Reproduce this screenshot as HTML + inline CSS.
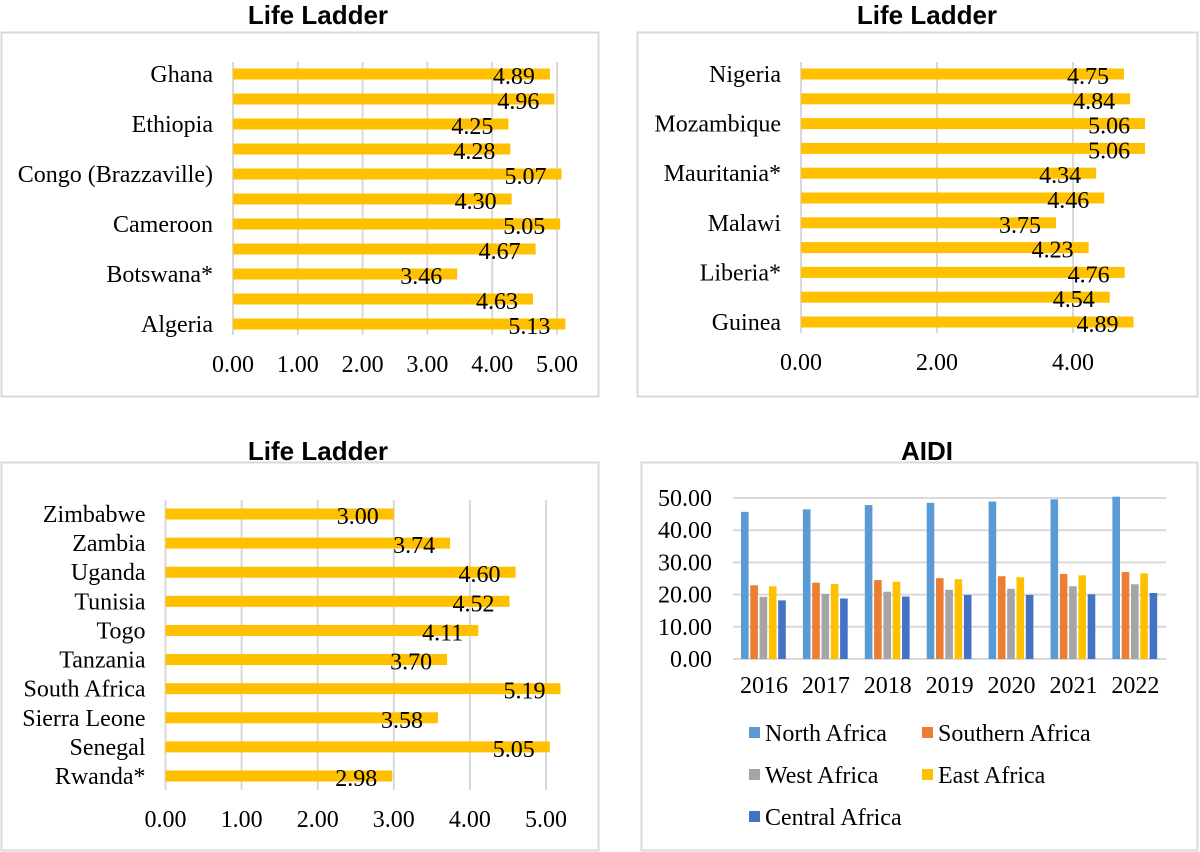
<!DOCTYPE html>
<html><head><meta charset="utf-8"><style>
html,body{margin:0;padding:0;background:#fff;width:1200px;height:852px;overflow:hidden}
svg{display:block}
text{font-family:"Liberation Serif",serif;fill:#000}
.t{font-family:"Liberation Sans",sans-serif;font-weight:bold;font-size:26px}
</style></head><body>
<svg id="s" width="1200" height="852">
<rect x="1.5" y="32.5" width="597" height="364" fill="none" stroke="#d9d9d9" stroke-width="2"/>
<rect x="637.5" y="32.5" width="560" height="364" fill="none" stroke="#d9d9d9" stroke-width="2"/>
<rect x="1.5" y="462.5" width="597" height="388" fill="none" stroke="#d9d9d9" stroke-width="2"/>
<rect x="641.5" y="462.5" width="556" height="388" fill="none" stroke="#d9d9d9" stroke-width="2"/>
<text class="t" x="318" y="24" text-anchor="middle">Life Ladder</text>
<text class="t" x="927" y="24" text-anchor="middle">Life Ladder</text>
<text class="t" x="318" y="460" text-anchor="middle">Life Ladder</text>
<text class="t" x="927" y="460" text-anchor="middle">AIDI</text>
<g id="g1"></g><g id="g2"></g><g id="g3"></g><g id="g4"></g>
</svg>
<script>
var ns="http://www.w3.org/2000/svg";
// Chart 1
var c1Labels=["Ghana","","Ethiopia","","Congo (Brazzaville)","","Cameroon","","Botswana*","","Algeria"];
var c1Values=[4.89,4.96,4.25,4.28,5.07,4.30,5.05,4.67,3.46,4.63,5.13];
var c1Ticks=[0,1,2,3,4,5];
// Chart 2
var c2Labels=["Nigeria","","Mozambique","","Mauritania*","","Malawi","","Liberia*","","Guinea"];
var c2Values=[4.75,4.84,5.06,5.06,4.34,4.46,3.75,4.23,4.76,4.54,4.89];
var c2Ticks=[0,2,4];
// Chart 3
var c3Labels=["Zimbabwe","Zambia","Uganda","Tunisia","Togo","Tanzania","South Africa","Sierra Leone","Senegal","Rwanda*"];
var c3Values=[3.00,3.74,4.60,4.52,4.11,3.70,5.19,3.58,5.05,2.98];
var c3Ticks=[0,1,2,3,4,5];
// Chart 4
var years=["2016","2017","2018","2019","2020","2021","2022"];
var seriesNames=["North Africa","Southern Africa","West Africa","East Africa","Central Africa"];
var northAfrica=[45.7,46.5,47.8,48.5,48.9,49.6,50.4];
var southernAfrica=[22.9,23.7,24.5,25.1,25.7,26.4,27.0];
var westAfrica=[19.3,20.2,20.9,21.5,21.8,22.6,23.2];
var eastAfrica=[22.6,23.3,24.0,24.8,25.4,26.0,26.6];
var centralAfrica=[18.2,18.8,19.4,19.9,19.9,20.1,20.5];
var yTicks4=[0,10,20,30,40,50];

function mk(p,tag,a){var e=document.createElementNS(ns,tag);for(var k in a)e.setAttribute(k,a[k]);p.appendChild(e);return e;}

function hbar(gid,labels,values,ticks,cfg){
  var g=document.getElementById(gid);
  var X=function(v){return cfg.x0+v*cfg.unit;};
  var n=labels.length,step=(cfg.yLast-cfg.yFirst)/(n-1);
  ticks.forEach(function(t){
    var l=mk(g,"line",{x1:X(t),x2:X(t),y1:cfg.gTop,y2:cfg.gBot,stroke:"#d9d9d9","stroke-width":2});
    
    
    var tx=mk(g,"text",{x:X(t),y:cfg.tickY,"text-anchor":"middle","font-size":"24px"});
    tx.textContent=t.toFixed(2);
    
    
  });
  labels.forEach(function(lb,i){
    var cy=cfg.yFirst+i*step;
    var r=mk(g,"rect",{x:X(0),y:cy-5.5,width:X(values[i])-X(0),height:11,fill:"#ffc000"});
    
    
    var v=mk(g,"text",{x:X(values[i])-15,y:cy+10,"text-anchor":"end","font-size":"24px"});
    v.textContent=values[i].toFixed(2);
    
    
    if(lb){var t=mk(g,"text",{x:cfg.x0-20,y:cy+8,"text-anchor":"end","font-size":"24px"});
    t.textContent=lb;
    
    }
  });
}
hbar("g1",c1Labels,c1Values,c1Ticks,{x0:233,unit:64.8,yFirst:74,yLast:324,gTop:62,gBot:335,tickY:372});
hbar("g2",c2Labels,c2Values,c2Ticks,{x0:801,unit:68,yFirst:74,yLast:322,gTop:62,gBot:333,tickY:370});
hbar("g3",c3Labels,c3Values,c3Ticks,{x0:165.5,unit:76.1,yFirst:514,yLast:776,gTop:500,gBot:790,tickY:827});

(function(){
  var g=document.getElementById("g4");
  var series=[northAfrica,southernAfrica,westAfrica,eastAfrica,centralAfrica];
  var colors=["#5b9bd5","#ed7d31","#a5a5a5","#ffc000","#4472c4"];
  var Y=function(v){return 659-v*3.22;};
  var px0=733,gw=61.9;
  yTicks4.forEach(function(t){
    var l=mk(g,"line",{x1:px0,x2:px0+gw*years.length,y1:Y(t),y2:Y(t),stroke:"#d9d9d9","stroke-width":2});
    
    
    var tx=mk(g,"text",{x:712,y:Y(t)+8,"text-anchor":"end","font-size":"24px"});
    tx.textContent=t.toFixed(2);
    
    
  });
  years.forEach(function(yr,i){
    var gx=px0+i*gw;
    series.forEach(function(s,j){
      var r=mk(g,"rect",{x:gx+8+j*9.3,y:Y(s[i]),width:7.6,height:Y(0)-Y(s[i]),fill:colors[j]});
      
      
    });
    var t=mk(g,"text",{x:gx+gw/2,y:693,"text-anchor":"middle","font-size":"24px"});
    t.textContent=yr;
    
    
  });
  var pos=[[749,733],[922,733],[749,775],[922,775],[749,817]];
  seriesNames.forEach(function(nm,j){
    var r=mk(g,"rect",{x:pos[j][0],y:pos[j][1]-6,width:11,height:11,fill:colors[j]});
    
    
    var t=mk(g,"text",{x:pos[j][0]+16,y:pos[j][1]+8,"font-size":"24px"});
    t.textContent=nm;
    
    
  });
})();
</script>
</body></html>
